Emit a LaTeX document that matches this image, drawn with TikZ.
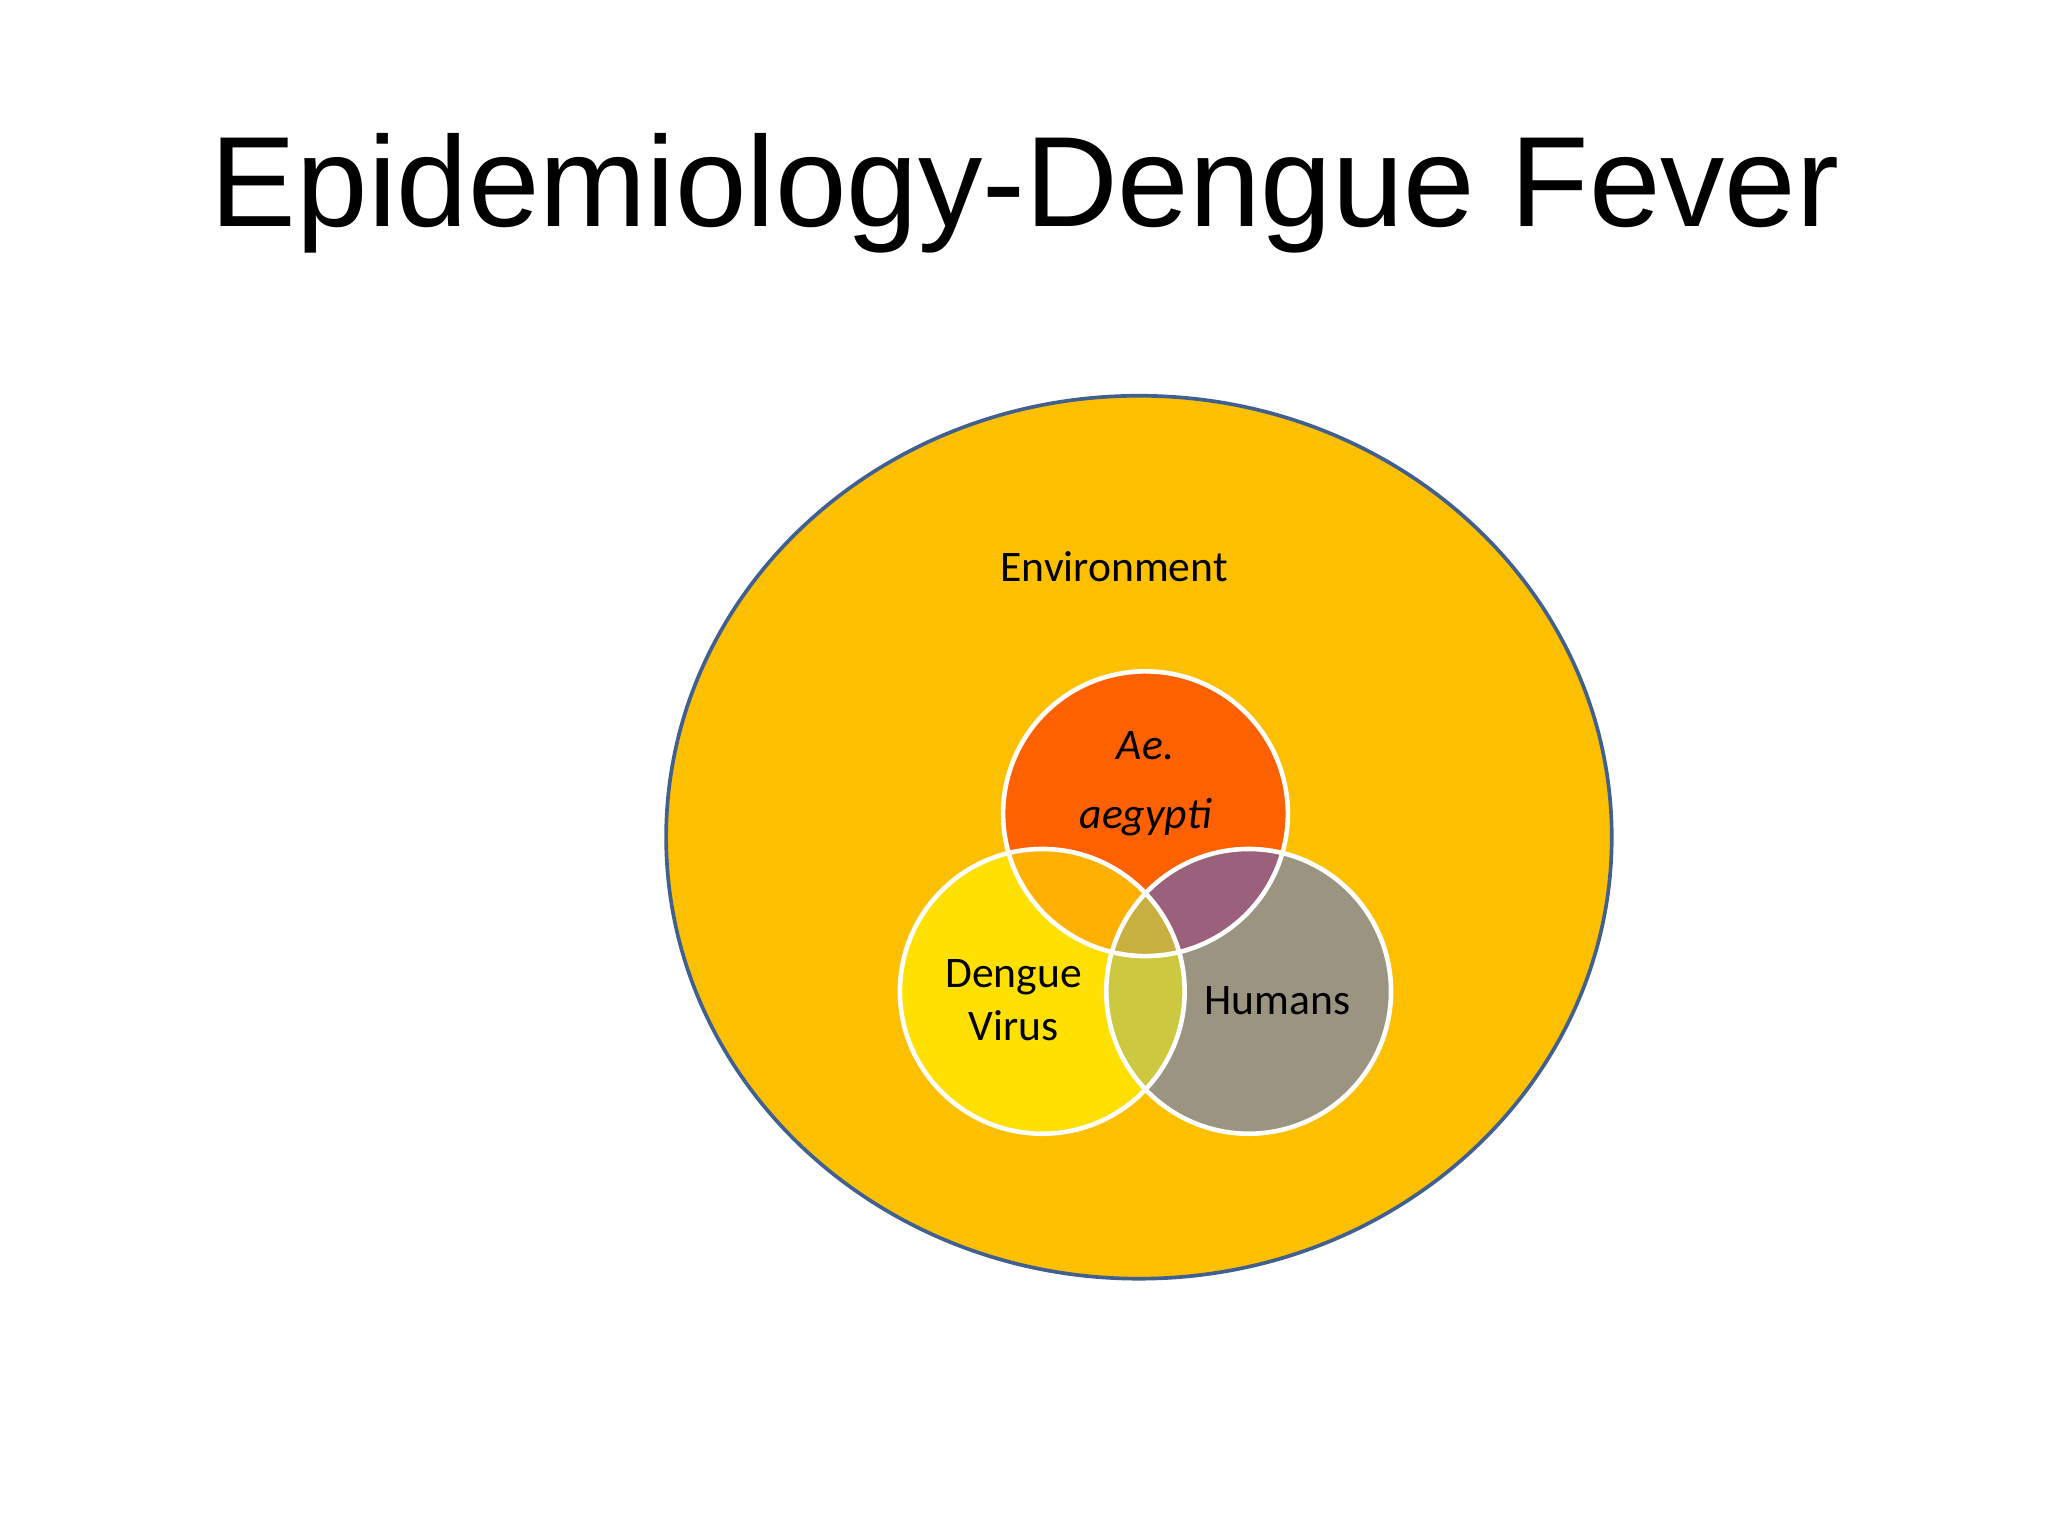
\documentclass[tikz,border=0pt]{standalone}
\usepackage{fontspec}
\setmainfont{Carlito}
\newfontfamily\titlefont{Liberation Sans}
\definecolor{envfill}{RGB}{253,192,0}
\definecolor{envdraw}{RGB}{65,96,143}
\definecolor{cT}{RGB}{255,96,0}
\definecolor{cL}{RGB}{255,224,0}
\definecolor{cR}{RGB}{154,148,128}
\definecolor{cTL}{RGB}{255,176,0}
\definecolor{cTR}{RGB}{154,96,124}
\definecolor{cLR}{RGB}{204,200,64}
\definecolor{cTLR}{RGB}{200,176,64}
\begin{document}
\begin{tikzpicture}[x=0.02cm,y=-0.02cm,
  lbl/.style={font=\fontsize{19}{22}\selectfont, align=center, text=black}]
\useasboundingbox (0,0) rectangle (1568,1176);
\fill[white] (0,0) rectangle (1568,1176);
\node[font=\titlefont\fontsize{56}{60}\selectfont] (title) at (785,148) {Epidemiology-Dengue Fever};
\draw[fill=envfill, draw=envdraw, line width=1.6pt] (872,641) ellipse [x radius=362, y radius=338];
\def\T{(877,623) circle [radius=109]}
\def\L{(798,759) circle [radius=109]}
\def\R{(956,759) circle [radius=109]}
\fill[cT] \T;
\fill[cL] \L;
\fill[cR] \R;
\begin{scope}\clip \T; \fill[cTL] \L; \end{scope}
\begin{scope}\clip \T; \fill[cTR] \R; \end{scope}
\begin{scope}\clip \L; \fill[cLR] \R; \end{scope}
\begin{scope}\clip \T; \clip \L; \fill[cTLR] \R; \end{scope}
\draw[white, line width=2pt] \T \L \R;
\node[lbl] (env) at (853,434) {Environment};
\node[lbl, font=\fontsize{19}{30}\selectfont\itshape] (ae) at (877,600) {Ae.\\aegypti};
\node[lbl, font=\fontsize{19}{23}\selectfont] (dv) at (776,766) {Dengue\\Virus};
\node[lbl] (hu) at (978,766) {Humans};
\end{tikzpicture}
\end{document}
